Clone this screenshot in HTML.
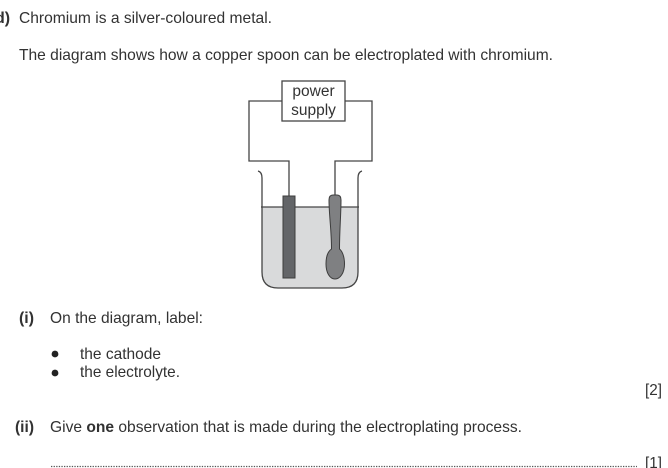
<!DOCTYPE html>
<html><head><meta charset="utf-8"><style>
html,body{margin:0;padding:0;background:#fff;width:668px;height:468px;overflow:hidden}
svg{display:block}
text{font-family:"Liberation Sans",sans-serif;font-size:16px;fill:#333}
.b{font-weight:bold}
</style></head><body>
<svg width="668" height="468" viewBox="0 0 668 468" xmlns="http://www.w3.org/2000/svg">
<defs><filter id="s" x="0" y="0" width="100%" height="100%"><feGaussianBlur stdDeviation="0.35"/></filter></defs>
<g filter="url(#s)">
<text class="b" x="-5" y="23">d)</text>
<text x="19" y="23" textLength="253" lengthAdjust="spacingAndGlyphs">Chromium is a silver-coloured metal.</text>
<text x="19" y="60" textLength="534" lengthAdjust="spacingAndGlyphs">The diagram shows how a copper spoon can be electroplated with chromium.</text>

<path d="M282 101H249V161H289V197M345 101H372V161H335V197" fill="none" stroke="#444" stroke-width="1.3"/>
<rect x="282" y="81" width="63" height="40" fill="#fff" stroke="#444" stroke-width="1.3"/>
<text x="313.5" y="96" text-anchor="middle" style="font-size:15.5px">power</text>
<text x="313.5" y="115" text-anchor="middle" style="font-size:15.5px">supply</text>

<path d="M262 207H358V272Q358 288 342 288H278Q262 288 262 272Z" fill="#d9dadb"/>
<path d="M258 171Q262 172 262 178V272Q262 288 278 288H342Q358 288 358 272V178Q358 172 362 171M261 207H359" fill="none" stroke="#444" stroke-width="1.3"/>
<rect x="283" y="196" width="12" height="82" fill="#646567" stroke="#3c3c3c" stroke-width="1"/>
<path d="M333 195H337Q341 195 341 200C341 215 339.500 230 339.500 249C342 251 344.500 256 344.500 264C344.500 273 340 279 335 279C330 279 326 273 326 264C326 256 328.500 251 331.500 249C331.500 230 329 215 329 200Q329 195 333 195Z" fill="#7f8082" stroke="#3c3c3c" stroke-width="1"/>

<text class="b" x="19" y="323" textLength="15" lengthAdjust="spacingAndGlyphs">(i)</text>
<text x="50" y="323" textLength="153" lengthAdjust="spacingAndGlyphs">On the diagram, label:</text>
<circle cx="55" cy="354" r="3.4" fill="#222"/>
<text x="80" y="359" textLength="81" lengthAdjust="spacingAndGlyphs">the cathode</text>
<circle cx="55" cy="373" r="3.4" fill="#222"/>
<text x="80" y="377" textLength="100" lengthAdjust="spacingAndGlyphs">the electrolyte.</text>
<text x="645" y="395" textLength="17" lengthAdjust="spacingAndGlyphs">[2]</text>

<text class="b" x="15" y="432" textLength="19" lengthAdjust="spacingAndGlyphs">(ii)</text>
<text x="50" y="432" textLength="472" lengthAdjust="spacingAndGlyphs">Give <tspan class="b">one</tspan> observation that is made during the electroplating process.</text>
<line x1="51" y1="466.500" x2="637" y2="466.500" stroke="#555" stroke-width="1.300" stroke-dasharray="1.300 1.300"/>
<text x="645" y="468" textLength="17" lengthAdjust="spacingAndGlyphs">[1]</text>
</g>
</svg>
</body></html>
